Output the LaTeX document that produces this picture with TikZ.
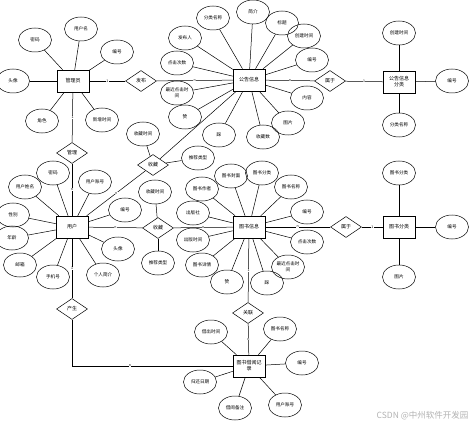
\documentclass[tikz,border=0pt]{standalone}
\usepackage{fontspec}
\setmainfont{Noto Sans CJK SC}
\usetikzlibrary{shapes.geometric}
\newlength{\du}
\setlength{\du}{1pt}

\tikzset{
  entity/.style={draw, rectangle, minimum width=32\du, minimum height=22\du,
    inner sep=0.5pt, align=center, font=\fontsize{5}{6}\selectfont},
  attr/.style={draw, ellipse, minimum width=33\du, minimum height=24\du,
    inner sep=0pt, align=center, font=\fontsize{4.6}{5.5}\selectfont},
  rel/.style={draw, diamond, aspect=1.5, minimum width=31\du, minimum height=21\du,
    inner sep=0pt, font=\fontsize{5}{6}\selectfont},
  card/.style={fill=white, inner sep=0.3pt, font=\fontsize{3.5}{4}\selectfont},
  conn/.style={draw, line width=0.5pt},
}

\begin{document}
\begin{tikzpicture}
\pgftransformxscale{1.000000}
\pgftransformyscale{-1.000000}
\useasboundingbox (0\du,0\du) rectangle (474\du,425\du);
\pgfsetlinewidth{0.5pt}

% entities
\node[entity] (gly)  at (73\du,81\du) {管理员};
\node[entity] (ggxx) at (249\du,80\du) {公告信息};
\node[entity] (ggfl) at (399\du,82\du) {公告信息\\分类};
\node[entity] (yh)   at (72\du,227\du) {用户};
\node[entity] (tsxx) at (249\du,227\du) {图书信息};
\node[entity] (tsfl) at (399\du,227\du) {图书分类};
\node[entity] (jyjl) at (249\du,366\du) {图书借阅记\\录};

% relations
\node[rel] (fb)  at (141\du,81\du) {发布};
\node[rel] (sy1) at (330\du,81\du) {属于};
\node[rel] (gl)  at (72\du,153\du) {管理};
\node[rel] (sc1) at (153\du,165\du) {收藏};
\node[rel] (sc2) at (158\du,228\du) {收藏};
\node[rel] (sy2) at (346\du,227\du) {属于};
\node[rel] (cs)  at (72\du,309\du) {产生};
\node[rel] (gl2) at (248\du,313\du) {关联};

% 管理员
\node[attr] (mm1)  at (35\du,40\du) {密码};
\node[attr] (yhm)  at (81\du,29\du) {用户名};
\node[attr] (bh1)  at (117\du,52\du) {编号};
\node[attr] (tx1)  at (13\du,81\du) {头像};
\node[attr] (js)   at (42\du,121\du) {角色};
\node[attr] (xzsj) at (102\du,120\du) {新增时间};
\foreach \a in {mm1,yhm,bh1,tx1,js,xzsj}
  \draw[conn] (gly) -- (\a);

% 公告信息
\node[attr] (flmc1) at (213\du,18\du) {分类名称};
\node[attr] (jj)    at (253\du,12\du) {简介};
\node[attr] (bt)    at (282\du,23\du) {标题};
\node[attr] (cjsj1) at (304\du,36\du) {创建时间};
\node[attr] (bh2)   at (312\du,60\du) {编号};
\node[attr] (nr)    at (307\du,98\du) {内容};
\node[attr] (tp1)   at (288\du,123\du) {图片};
\node[attr] (scs)   at (263\du,137\du) {收藏数};
\node[attr] (cai1)  at (219\du,135\du) {踩};
\node[attr] (zan1)  at (185\du,117\du) {赞};
\node[attr] (zjdj1) at (177\du,93\du) {最近点击时\\间};
\node[attr] (djcs1) at (177\du,63\du) {点击次数};
\node[attr] (fbr)   at (185\du,38\du) {发布人};
\foreach \a in {flmc1,jj,bt,cjsj1,bh2,nr,tp1,scs,cai1,zan1,zjdj1,djcs1,fbr}
  \draw[conn] (ggxx) -- (\a);

% 公告信息分类
\node[attr] (cjsj2) at (399\du,33\du) {创建时间};
\node[attr] (bh3)   at (452\du,81\du) {编号};
\node[attr] (flmc2) at (399\du,125\du) {分类名称};
\foreach \a in {cjsj2,bh3,flmc2}
  \draw[conn] (ggfl) -- (\a);

% 用户
\node[attr] (mm2)   at (53\du,173\du) {密码};
\node[attr] (yhzh1) at (95\du,182\du) {用户账号};
\node[attr] (yhxm)  at (25\du,187\du) {用户姓名};
\node[attr] (bh4)   at (125\du,210\du) {编号};
\node[attr] (xb)    at (13\du,215\du) {性别};
\node[attr] (nl)    at (12\du,238\du) {年龄};
\node[attr] (tx2)   at (118\du,249\du) {头像};
\node[attr] (yx)    at (20\du,265\du) {邮箱};
\node[attr] (sjh)   at (53\du,277\du) {手机号};
\node[attr] (grjj)  at (103\du,275\du) {个人简介};
\foreach \a in {mm2,yhzh1,yhxm,bh4,xb,nl,tx2,yx,sjh,grjj}
  \draw[conn] (yh) -- (\a);

% 收藏
\node[attr] (scsj1) at (143\du,134\du) {收藏时间};
\node[attr] (tjlx1) at (198\du,158\du) {推荐类型};
\node[attr] (scsj2) at (155\du,192\du) {收藏时间};
\node[attr] (tjlx2) at (158\du,263\du) {推荐类型};
\draw[conn] (sc1) -- (scsj1);
\draw[conn] (sc1) -- (tjlx1);
\draw[conn] (sc2) -- (scsj2);
\draw[conn] (sc2) -- (tjlx2);

% 图书信息
\node[attr] (tszz)  at (202\du,189\du) {图书作者};
\node[attr] (tsfm)  at (231\du,176\du) {图书封面};
\node[attr] (tsfl1) at (262\du,173\du) {图书分类};
\node[attr] (tsmc1) at (291\du,187\du) {图书名称};
\node[attr] (bh5)   at (307\du,212\du) {编号};
\node[attr] (djcs2) at (307\du,242\du) {点击次数};
\node[attr] (zjdj2) at (288\du,267\du) {最近点击时\\间};
\node[attr] (cai2)  at (267\du,283\du) {踩};
\node[attr] (zan2)  at (227\du,282\du) {赞};
\node[attr] (tsxq)  at (202\du,265\du) {图书详情};
\node[attr] (cbsj)  at (193\du,240\du) {出版时间};
\node[attr] (cbs)   at (193\du,213\du) {出版社};
\foreach \a in {tszz,tsfm,tsfl1,tsmc1,bh5,djcs2,zjdj2,cai2,zan2,tsxq,cbsj,cbs}
  \draw[conn] (tsxx) -- (\a);

% 图书分类
\node[attr] (tsfl2) at (399\du,173\du) {图书分类};
\node[attr] (bh6)   at (452\du,227\du) {编号};
\node[attr] (tp2)   at (399\du,277\du) {图片};
\foreach \a in {tsfl2,bh6,tp2}
  \draw[conn] (tsfl) -- (\a);

% 图书借阅记录
\node[attr] (jcsj)  at (211\du,332\du) {借出时间};
\node[attr] (tsmc2) at (280\du,329\du) {图书名称};
\node[attr] (bh7)   at (302\du,363\du) {编号};
\node[attr] (yhzh2) at (285\du,405\du) {用户账号};
\node[attr] (jybz)  at (235\du,408\du) {借阅备注};
\node[attr] (ghrq)  at (200\du,382\du) {归还日期};
\foreach \a in {jcsj,tsmc2,bh7,yhzh2,jybz,ghrq}
  \draw[conn] (jyjl) -- (\a);

% relationships
\draw[conn] (gly) -- node[card] {1} (fb);
\draw[conn] (fb) -- node[card] {n} (ggxx);
\draw[conn] (ggxx) -- node[card] {n} (sy1);
\draw[conn] (sy1) -- node[card] {1} (ggfl);
\draw[conn] (gly) -- node[card] {1} (gl);
\draw[conn] (gl) -- node[card] {n} (yh);
\draw[conn] (yh) -- node[card] {n} (sc1);
\draw[conn] (sc1) -- (ggxx);
\draw[conn] (yh) -- node[card] {n} (sc2);
\draw[conn] (sc2) -- node[card] {n} (tsxx);
\draw[conn] (tsxx) -- node[card] {n} (sy2);
\draw[conn] (sy2) -- node[card] {1} (tsfl);
\draw[conn] (yh) -- node[card] {1} (cs);
\draw[conn] (cs) |- node[card, pos=0.68] {n} (jyjl);
\draw[conn] (tsxx) -- node[card] {1} (gl2);
\draw[conn] (gl2) -- node[card] {n} (jyjl);

\node[anchor=east, text=black!30, font=\fontsize{8.5}{9}\selectfont] (wm) at (472\du,416\du) {CSDN @中州软件开发园};
\end{tikzpicture}
\end{document}
